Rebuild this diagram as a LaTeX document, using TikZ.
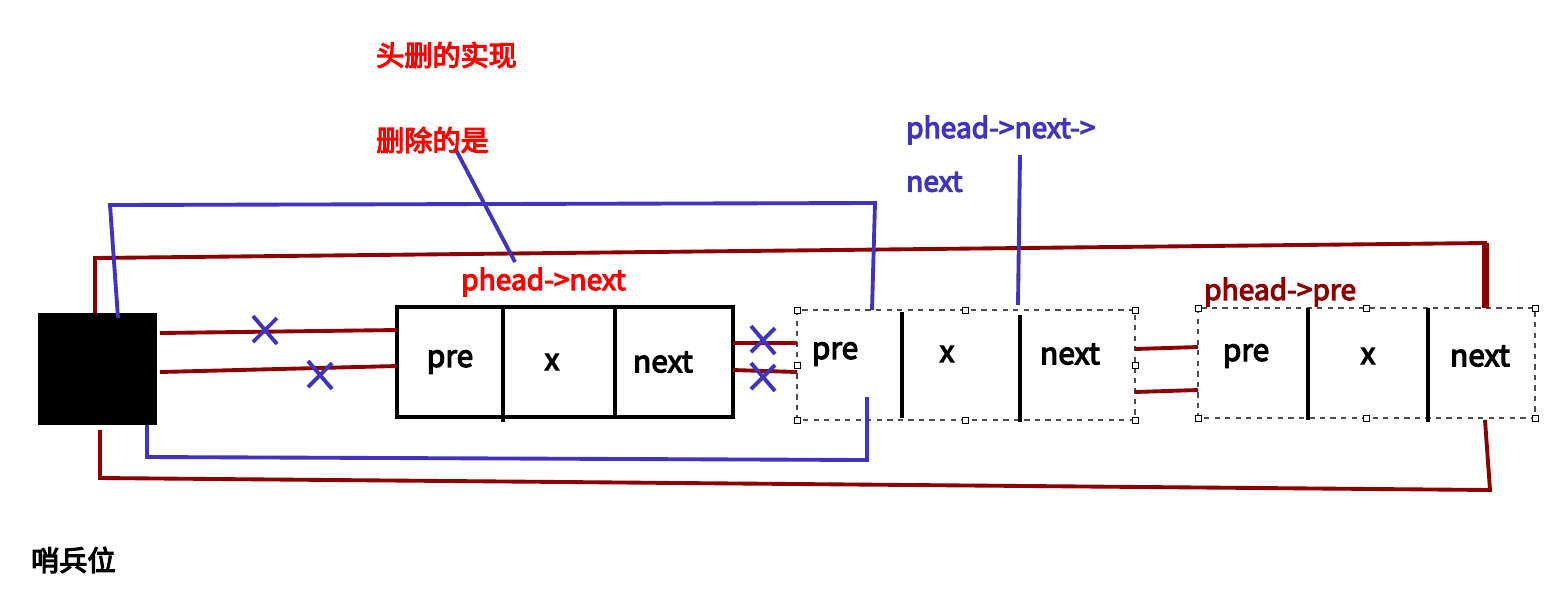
\documentclass[tikz,border=0pt]{standalone}
\usepackage{fontspec}
\setmainfont{Noto Sans CJK SC}[AutoFakeBold=4]
\begin{document}
\begin{tikzpicture}[x=0.02cm,y=-0.02cm,
  dred/.style={draw=red!55!black,line width=2.2pt},
  blu/.style={draw=blue!60!cyan!50!violet,line width=2.2pt},
  cell/.style={font=\bfseries\fontsize{17}{19}\selectfont},
  lab/.style={font=\bfseries\fontsize{16}{19}\selectfont,anchor=west}]
\useasboundingbox (0,0) rectangle (1551,603);
\colorlet{bl}{blue!60!cyan!50!violet}
% sentinel
\fill (38,313) rectangle (157,425);
\node[lab] (s) at (25,560) {哨兵位};
% node 1
\draw[line width=2.2pt] (397,307) rectangle (733,417);
\draw[line width=2.2pt] (503,307) -- (503,422) (615,307) -- (615,417);
\node[cell] (p1) at (450,362) {pre};
\node[cell] (x1) at (552,362) {x};
\node[cell] (n1) at (663,362) {next};
% node 2
\draw[black!70,dashed,line width=1pt] (797,310) rectangle (1135,420);
\draw[line width=2.2pt] (902,312) -- (902,418) (1020,315) -- (1020,422);
\foreach \p in {(797,310),(965,310),(1135,310),(797,420),(965,420),(1135,420),(797,365),(1135,365)}
  \draw[fill=white] \p ++(-3,-3) rectangle ++(6,6);
\node[cell] (p2) at (835,354) {pre};
\node[cell] (x2) at (947,354) {x};
\node[cell] (n2) at (1070,354) {next};
% node 3
\draw[black!70,dashed,line width=1pt] (1198,308) rectangle (1535,418);
\draw[line width=2.2pt] (1308,308) -- (1308,420) (1428,308) -- (1428,422);
\foreach \p in {(1198,308),(1366,308),(1535,308),(1198,418),(1366,418),(1535,418)}
  \draw[fill=white] \p ++(-3,-3) rectangle ++(6,6);
\node[cell] (p3) at (1246,356) {pre};
\node[cell] (x3) at (1368,356) {x};
\node[cell] (n3) at (1480,356) {next};
% red links
\draw[dred] (160,333) -- (397,330) (160,372) -- (397,366)
  (733,343) -- (797,343) (733,370) -- (797,372)
  (1135,349) -- (1198,347) (1135,392) -- (1198,390);
\draw[dred] (95,313) -- (95,258) -- (1485,243) -- (1485,308);
\draw[dred,line width=4pt] (1485,243) -- (1485,308);
\draw[dred] (100,430) -- (100,478) -- (1490,490) -- (1485,420);
% blue
\draw[blu] (118,318) -- (110,205) -- (875,203) -- (872,310);
\draw[blu] (147,425) -- (147,457) -- (867,460) -- (867,397);
\draw[blu] (455,148) -- (515,262);
\draw[blu] (1020,155) -- (1018,305);
\foreach \c in {(265,330),(320,375),(763,340),(763,377)}
  \draw[blu] \c ++(-12,-14) -- ++(24,28) \c ++(-12,12) -- ++(24,-24);
% labels
\node[lab,text=red] (t1) at (370,55) {头删的实现};
\node[lab,text=red] (t2) at (370,140) {删除的是};
\node[lab,text=red] (t3) at (455,282) {phead->next};
\node[lab,text=bl] (t4) at (900,130) {phead->next->};
\node[lab,text=bl] (t5) at (900,182) {next};
\node[lab,text=red!55!black] (t6) at (1198,292) {phead->pre};
\end{tikzpicture}
\end{document}
